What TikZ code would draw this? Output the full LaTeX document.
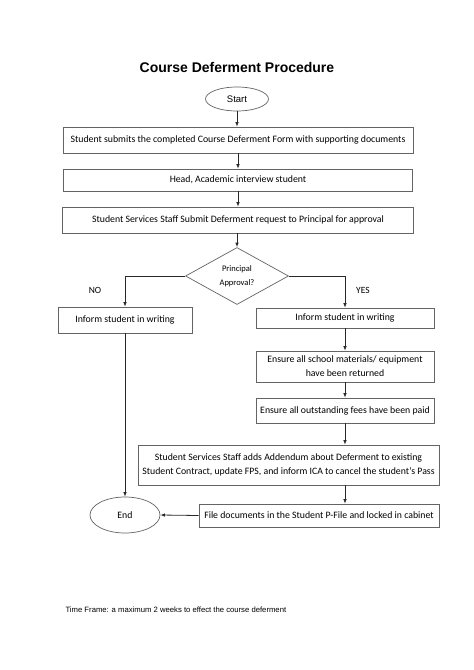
\documentclass[tikz,border=0pt]{standalone}
\usepackage{fontspec}
\setmainfont{Carlito}
\newfontfamily\arialfont{Liberation Sans}
\definecolor{lineA}{RGB}{40, 40, 40}
\definecolor{boxA}{RGB}{100, 100, 100}
\usetikzlibrary{shapes.geometric, arrows.meta}

\begin{document}
\begin{tikzpicture}[x=1pt, y=-1pt,
  stepbox/.style={draw=boxA, line width=0.7pt, inner sep=0pt, align=center,
    font=\fontsize{9.8}{14}\selectfont},
  terminal/.style={ellipse, draw=boxA, line width=0.7pt, inner sep=0pt},
  decision/.style={diamond, draw=boxA, line width=0.7pt, inner sep=0pt, align=center,
    font=\fontsize{8.5}{14}\selectfont},
  flow/.style={draw=lineA, line width=0.8pt, -{Latex[length=4.5pt,width=3.5pt]}}]

\useasboundingbox[fill=white] (0,0) rectangle (474,670);

\node (title) at (237,67) {\arialfont\bfseries\fontsize{14}{16}\selectfont Course Deferment Procedure};

%%% MAIN COLUMN
\node[terminal, minimum width=63pt, minimum height=24pt] (start) at (237,99) {\arialfont\fontsize{9.5}{10}\selectfont Start};
\node[stepbox, minimum width=350pt, minimum height=26pt] (submit) at (238,140) {Student submits the completed Course Deferment Form with supporting documents};
\node[stepbox, minimum width=349pt, minimum height=22pt] (interview) at (238,180) {Head, Academic interview student};
\node[stepbox, minimum width=351pt, minimum height=26pt] (request) at (238,220) {Student Services Staff Submit Deferment request to Principal for approval};
\node[decision, minimum width=103pt, minimum height=57pt] (approval) at (237,276) {Principal\\Approval?};

%%% NO BRANCH
\node[stepbox, minimum width=134pt, minimum height=26pt] (informno) at (125,320) {Inform student in writing};
\node[terminal, minimum width=70pt, minimum height=36pt, font=\fontsize{9.8}{10}\selectfont] (finish) at (125,515) {End};

%%% YES BRANCH
\node[stepbox, minimum width=178pt, minimum height=20pt] (informyes) at (345,318) {Inform student in writing};
\node[stepbox, minimum width=178pt, minimum height=31pt] (materials) at (345,366.5) {Ensure all school materials/ equipment\\have been returned};
\node[stepbox, minimum width=178pt, minimum height=25pt] (fees) at (345,410.5) {Ensure all outstanding fees have been paid};
\node[stepbox, minimum width=301pt, minimum height=40pt] (addendum) at (288.5,465) {Student Services Staff adds Addendum about Deferment to existing\\Student Contract, update FPS, and inform ICA to cancel the student’s Pass};
\node[stepbox, minimum width=240pt, minimum height=23pt] (filedocs) at (319,515.5) {File documents in the Student P-File and locked in cabinet};

\node[font=\fontsize{9.5}{10}\selectfont] (nolabel) at (95,290) {NO};
\node[font=\fontsize{9.5}{10}\selectfont] (yeslabel) at (363,290) {YES};

\node[anchor=west] (timeframe) at (62,610) {\arialfont\fontsize{7.7}{9}\selectfont Time Frame: a maximum 2 weeks to effect the course deferment};

%%% CONNECTORS
\draw[flow] (start) -- (start |- submit.north);
\draw[flow] (submit) -- (interview);
\draw[flow] (interview) -- (request);
\draw[flow] (request.south -| approval) -- (approval);
\draw[flow] (approval.west) -| (informno.north);
\draw[flow] (approval.east) -| (informyes.north);
\draw[flow] (informno) -- (finish);
\draw[flow] (informyes) -- (materials);
\draw[flow] (materials) -- (fees);
\draw[flow] (fees) -- (fees |- addendum.north);
\draw[flow] (fees |- addendum.south) -- (fees |- filedocs.north);
\draw[flow] (filedocs.west) -- (finish.east);

\end{tikzpicture}
\end{document}
